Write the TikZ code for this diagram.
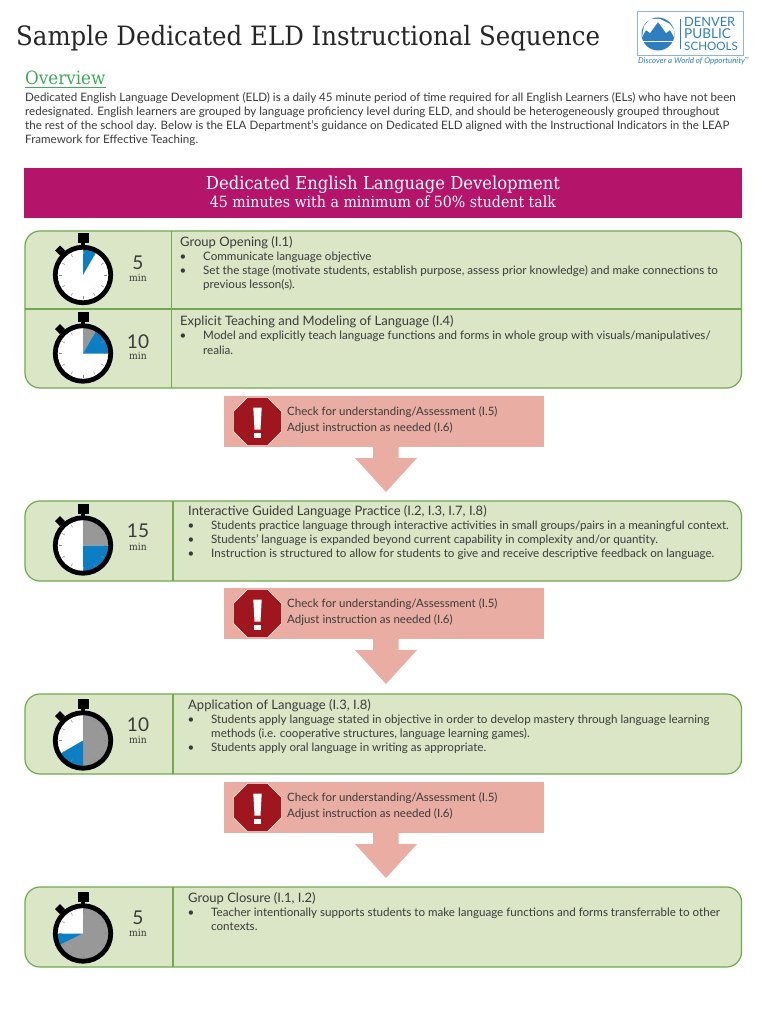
\documentclass[tikz,border=0pt]{standalone}
\usepackage{fontspec}
\setmainfont{Lato}
\newfontfamily\slab[FakeStretch=0.92]{DejaVu Serif}
\usetikzlibrary{calc,positioning,shapes.geometric}
\definecolor{inkgray}{HTML}{3A3A3A}
\definecolor{panelfill}{HTML}{DBE6C7}
\definecolor{panelline}{HTML}{70A94F}
\definecolor{bannerfill}{HTML}{B4156A}
\definecolor{alertfill}{HTML}{E9ADA3}
\definecolor{stopred}{HTML}{A0161F}
\definecolor{overgreen}{HTML}{3FA95A}
\definecolor{wedgeblue}{HTML}{0C7FC4}
\definecolor{wedgegray}{HTML}{989898}
\definecolor{logoblue}{HTML}{2F7FBF}
\definecolor{logoline}{HTML}{8FB4D8}
\tikzset{
  txt/.style={anchor=base west, inner sep=0pt, text=inkgray, font=\fontsize{11.6}{13}\selectfont},
  headtxt/.style={txt, font=\fontsize{13}{14}\selectfont},
  bannertxt/.style={anchor=base, inner sep=0pt, text=white, font=\slab\fontsize{#1}{20}\selectfont},
  panel/.style={draw=panelline, fill=panelfill, line width=1.2pt, rounded corners=15pt},
  divider/.style={draw=panelline, line width=1.2pt},
  alertbox/.style={fill=alertfill, minimum width=320pt, minimum height=51pt, inner sep=0pt},
  alerttxt/.style={txt, font=\fontsize{11.5}{14}\selectfont},
  octa/.style={regular polygon, regular polygon sides=8, fill=stopred, draw=white!80!alertfill, line width=0.5pt, minimum size=52pt, inner sep=0pt},
  ring/.style={circle, draw=black, line width=4.8pt, minimum size=55.5pt, inner sep=0pt},
  knob/.style={fill=black},
  tick/.style={draw=black!45, line width=0.5pt},
  minnum/.style={anchor=base, inner sep=0pt, text=inkgray, font=\fontsize{19}{20}\selectfont},
  mintxt/.style={anchor=base, inner sep=0pt, text=inkgray, font=\slab\fontsize{10}{10}\selectfont},
  logotxt/.style={anchor=base west, inner sep=0pt, text=logoblue, font=\fontsize{#1}{13}\selectfont},
}
\begin{document}
\begin{tikzpicture}[x=1pt,y=1pt]
  \useasboundingbox (0,0) rectangle (768,-1024);
  \fill[white] (0,0) rectangle (768,-1024);

  \node[anchor=base west, inner sep=0pt, text=black!85, font=\slab\fontsize{26.6}{30}\selectfont] (title) at (16,-45.5) {Sample Dedicated ELD Instructional Sequence};
  \node[anchor=base west, inner sep=0pt, text=overgreen, font=\slab\fontsize{18.2}{20}\selectfont] (over) at (25,-84.5) {Overview};
  \draw[overgreen, line width=0.7pt] (over.base west |- 0,-87) -- (over.base east |- 0,-87);
  \foreach \n/\y/\t in {
    1/-101.7/{Dedicated English Language Development (ELD) is a daily 45 minute period of time required for all English Learners (ELs) who have not been},
    2/-115.7/{redesignated. English learners are grouped by language proficiency level during ELD, and should be heterogeneously grouped throughout},
    3/-129.7/{the rest of the school day. Below is the ELA Department’s guidance on Dedicated ELD aligned with the Instructional Indicators in the LEAP},
    4/-143.7/{Framework for Effective Teaching.}} {
    \node[txt] (intro\n) at (25,\y) {\t};
  }

  % logo
  \node[draw=logoline, line width=1pt, minimum width=106pt, minimum height=44pt, inner sep=0pt] (logo) at (690.5,-34) {};
  \node[circle, fill=logoblue, minimum size=33pt, inner sep=0pt] (seal) at (658,-34) {};
  \fill[white] (642,-37) -- (646,-30) -- (650,-33) -- (655,-26) -- (658,-22) -- (661,-26) -- (666,-33) -- (670,-30) -- (674,-37) -- (674,-30) -- (670,-24) -- (660,-19) -- (650,-19) -- (644,-26) -- cycle;
  \fill[white] (642.5,-41) rectangle (673.5,-42.5);
  \draw[logoblue, line width=0.7pt] (680,-19) -- (680,-49);
  \node[logotxt=12.8] (denver) at (684,-27) {DENVER};
  \node[logotxt=13.6] (public) at (684,-39) {PUBLIC};
  \node[logotxt=11.6] (schools) at (684,-51) {SCHOOLS};
  \node[anchor=base west, inner sep=0pt, text=logoblue, font=\itshape\fontsize{7.9}{8}\selectfont] (slogan) at (638,-64) {Discover a World of Opportunity\textsuperscript{™}};

  % banner
  \fill[bannerfill] (24,-168) rectangle (742,-218);
  \node[bannertxt=17.8] (ban1) at (383,-189.7) {Dedicated English Language Development};
  \node[bannertxt=15.4] (ban2) at (383,-207.7) {45 minutes with a minimum of 50\% student talk};

  % panels
  \foreach \n/\top/\bot/\dx in {1/-231/-388/171.5, 2/-501/-581/173, 3/-694/-774/173, 4/-887/-967/173} {
    \draw[panel] (25,\top) rectangle (741.5,\bot);
    \draw[divider] (\dx,\top) -- (\dx,\bot);
  }
  \draw[divider] (25,-309) -- (741.5,-309);

  % stopwatches
  \foreach \w/\cy/\g/\b/\m/\ny/\my in {
    1/-275/0/30/5/-269/-281,
    2/-353.5/30/90/10/-348/-359,
    3/-545.5/90/180/15/-537/-550,
    4/-740.5/180/240/10/-731/-743,
    5/-933.5/244/270/5/-924/-936} {
    \coordinate (c\w) at (83,\cy);
    \fill[knob] ([shift={(-5.5,41.5)}]c\w) rectangle ([shift={(5.5,32)}]c\w);
    \fill[knob] ([shift={(-2,33)}]c\w) rectangle ([shift={(2,28)}]c\w);
    \draw[draw=black, line width=2pt] ([shift={(-23,24.5)}]c\w) -- ([shift={(-18,19.5)}]c\w);
    \fill[knob] ([shift={(-28,24.5)}]c\w) -- ([shift={(-23,29.5)}]c\w) -- ([shift={(-18,24.5)}]c\w) -- ([shift={(-23,19.5)}]c\w) -- cycle;
    \fill[white] (c\w) circle (27);
    \ifnum\g>0
      \fill[wedgegray] (c\w) -- ++(90:26.5) arc[start angle=90, end angle=90-\g, radius=26.5] -- cycle;
    \fi
    \fill[wedgeblue] (c\w) -- ++(90-\g:26.5) arc[start angle=90-\g, end angle=90-\b, radius=26.5] -- cycle;
    \foreach \a in {0,30,...,330} {
      \draw[tick] ($(c\w)+(\a:21)$) -- ($(c\w)+(\a:24)$);
    }
    \node[ring] (watch\w) at (c\w) {};
    \node[minnum] (num\w) at (138,\ny) {\m};
    \node[mintxt] (min\w) at (138,\my) {min};
  }

  % alert boxes
  \foreach \n/\cy in {1/-421.5, 2/-613.5, 3/-807.5} {
    \node[alertbox] (alert\n) at (384,\cy) {};
    \coordinate (tip\n) at (386,\cy-70.5);
    \fill[alertfill] ([xshift=-11pt]alert\n.south) -- ++(0,-11) -- ([shift={(-31,34)}]tip\n) -- (tip\n) -- ([shift={(31,34)}]tip\n) -- ([shift={(12.5,34)}]tip\n) -- ([xshift=14.5pt]alert\n.south) -- cycle;
    \node[octa] (stop\n) at (257.5,\cy) {};
    \fill[white] ($(stop\n)+(-4.2,14)$) -- ($(stop\n)+(4.2,14)$) -- ($(stop\n)+(3,-8)$) -- ($(stop\n)+(-3,-8)$) -- cycle;
    \fill[white] ($(stop\n)+(-3.2,-11)$) rectangle ($(stop\n)+(3.2,-16)$);
    \node[alerttxt] (check\n) at (287,\cy+6) {Check for understanding/Assessment (I.5)};
    \node[alerttxt] (adjust\n) at (287,\cy-10) {Adjust instruction as needed (I.6)};
  }

  % panel texts
  \foreach \n/\x/\y/\t in {
    1/180/-246.5/{Group Opening (I.1)},
    2/180/-325.5/{Explicit Teaching and Modeling of Language (I.4)},
    3/188/-515.5/{Interactive Guided Language Practice (I.2, I.3, I.7, I.8)},
    4/188/-709.5/{Application of Language (I.3, I.8)},
    5/188/-902.5/{Group Closure (I.1, I.2)}} {
    \node[headtxt] (head\n) at (\x,\y) {\t};
  }
  \foreach \n/\x/\y/\t in {
    a/203/-260/{Communicate language objective},
    b/203/-274/{Set the stage (motivate students, establish purpose, assess prior knowledge) and make connections to},
    d/203/-339/{Model and explicitly teach language functions and forms in whole group with visuals/manipulatives/},
    f/211/-529/{Students practice language through interactive activities in small groups/pairs in a meaningful context.},
    g/211/-543/{Students’ language is expanded beyond current capability in complexity and/or quantity.},
    h/211/-557/{Instruction is structured to allow for students to give and receive descriptive feedback on language.},
    i/211/-723/{Students apply language stated in objective in order to develop mastery through language learning},
    k/211/-751/{Students apply oral language in writing as appropriate.},
    l/211/-916/{Teacher intentionally supports students to make language functions and forms transferrable to other}} {
    \node[txt] (item\n) at (\x,\y) {\t};
    \node[txt, anchor=base] (dot\n) at (\x-20,\y) {\textbullet};
  }
  \foreach \n/\x/\y/\t in {
    c/203/-288/{previous lesson(s).},
    e/203/-354/{realia.},
    j/211/-737/{methods (i.e. cooperative structures, language learning games).},
    m/211/-930/{contexts.}} {
    \node[txt] (item\n) at (\x,\y) {\t};
  }
\end{tikzpicture}
\end{document}
